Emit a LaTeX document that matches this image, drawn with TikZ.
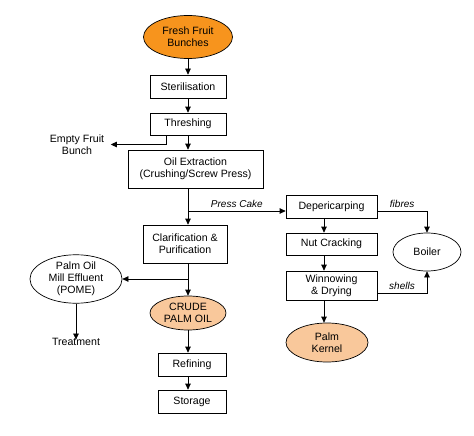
\documentclass[tikz,border=0pt]{standalone}
\usepackage{fontspec}
\setmainfont{Liberation Sans}
\usepackage{xcolor}
\usetikzlibrary{shapes.geometric,arrows.meta}
\definecolor{ffborange}{HTML}{F7941D}
\definecolor{cpopeach}{HTML}{F9C89B}
\tikzset{
  stage/.style={draw, line width=0.7pt, inner sep=2pt, align=center, font=\fontsize{10.6}{12.2}\selectfont},
  prod/.style={ellipse, draw, line width=0.7pt, inner sep=0pt, align=center, font=\fontsize{10.6}{12.2}\selectfont},
  plain/.style={align=center, font=\fontsize{10.6}{12.2}\selectfont},
}
\begin{document}
\begin{tikzpicture}[x=1pt, y=-1pt, >={Triangle[length=6pt,width=5.5pt]}, line width=0.7pt]
\useasboundingbox (0,0) rectangle (474,436);
\coordinate (axis) at (188,0);
\coordinate (kx) at (324,0);
\node (fresh) at (188,37) [prod, fill=ffborange, minimum width=89pt, minimum height=43pt] {Fresh Fruit\\Bunches};
\node (steril) at (188,86.5) [stage, minimum width=76pt, minimum height=23pt] {Sterilisation};
\node (thresh) at (188,124) [stage, minimum width=76pt, minimum height=22pt] {Threshing};
\node (efb) at (77,144.5) [plain] {Empty Fruit\\Bunch};
\node (oilex) at (195.5,169) [stage, minimum width=135pt, minimum height=38pt] {Oil Extraction\\(Crushing/Screw Press)};
\node (clar) at (185,244) [stage, minimum width=84pt, minimum height=38pt] {Clarification \&\\Purification};
\node (pome) at (76,279) [prod, minimum width=92pt, minimum height=42pt] {Palm Oil\\Mill Effluent\\(POME)};
\node (treat) at (76,342) [plain] {Treatment};
\node (crude) at (188,313) [prod, fill=cpopeach, minimum width=76pt, minimum height=34pt] {CRUDE\\PALM OIL};
\node (refin) at (192,364.5) [stage, minimum width=68pt, minimum height=23pt] {Refining};
\node (stor) at (192,401.5) [stage, minimum width=68pt, minimum height=23pt] {Storage};
\node (deper) at (331.5,206.5) [stage, minimum width=91pt, minimum height=23pt] {Depericarping};
\node (nutc) at (331.5,244) [stage, minimum width=91pt, minimum height=22pt] {Nut Cracking};
\node (winn) at (331.5,285.5) [stage, minimum width=91pt, minimum height=29pt] {Winnowing\\\& Drying};
\node (kernel) at (327,342.5) [prod, fill=cpopeach, minimum width=82pt, minimum height=39pt] {Palm\\Kernel};
\node (boiler) at (427,252) [prod, minimum width=68pt, minimum height=38pt] {Boiler};
\coordinate (pc) at (188,211);
\coordinate (sh) at (377,293);

% main line
\draw [->] (fresh) -> (steril);
\draw [->] (steril) -> (thresh);
\draw [->] (thresh.south) -> (axis |- oilex.north);
\draw [->] ([xshift=-22pt]thresh.south) |- ([xshift=3pt]efb.east);
\draw [->] (axis |- oilex.south) -> (axis |- clar.north);
\draw [->] (pc) -> (pc -| deper.west) node[midway, above] {\itshape Press Cake};
\draw [->] (axis |- clar.south) -> (crude.north);
\draw [->] (axis |- pome.east) -> (pome.east);
\draw [->] (pome.south) -> ([yshift=-5pt]treat.north);
\draw [->] (crude.south) -> (axis |- refin.north);
\draw [->] (axis |- refin.south) -> (axis |- stor.north);

% kernel line
\draw [->] (kx |- deper.south) -> (kx |- nutc.north);
\draw [->] (kx |- nutc.south) -> (kx |- winn.north);
\draw [->] (kx |- winn.south) -> (kx |- kernel.north);
\draw [->] (pc -| deper.east) -| (boiler.north) node[pos=0.25, above] {\itshape fibres};
\draw [->] (sh) -| (boiler.south) node[pos=0.25, above] {\itshape shells};
\end{tikzpicture}
\end{document}
